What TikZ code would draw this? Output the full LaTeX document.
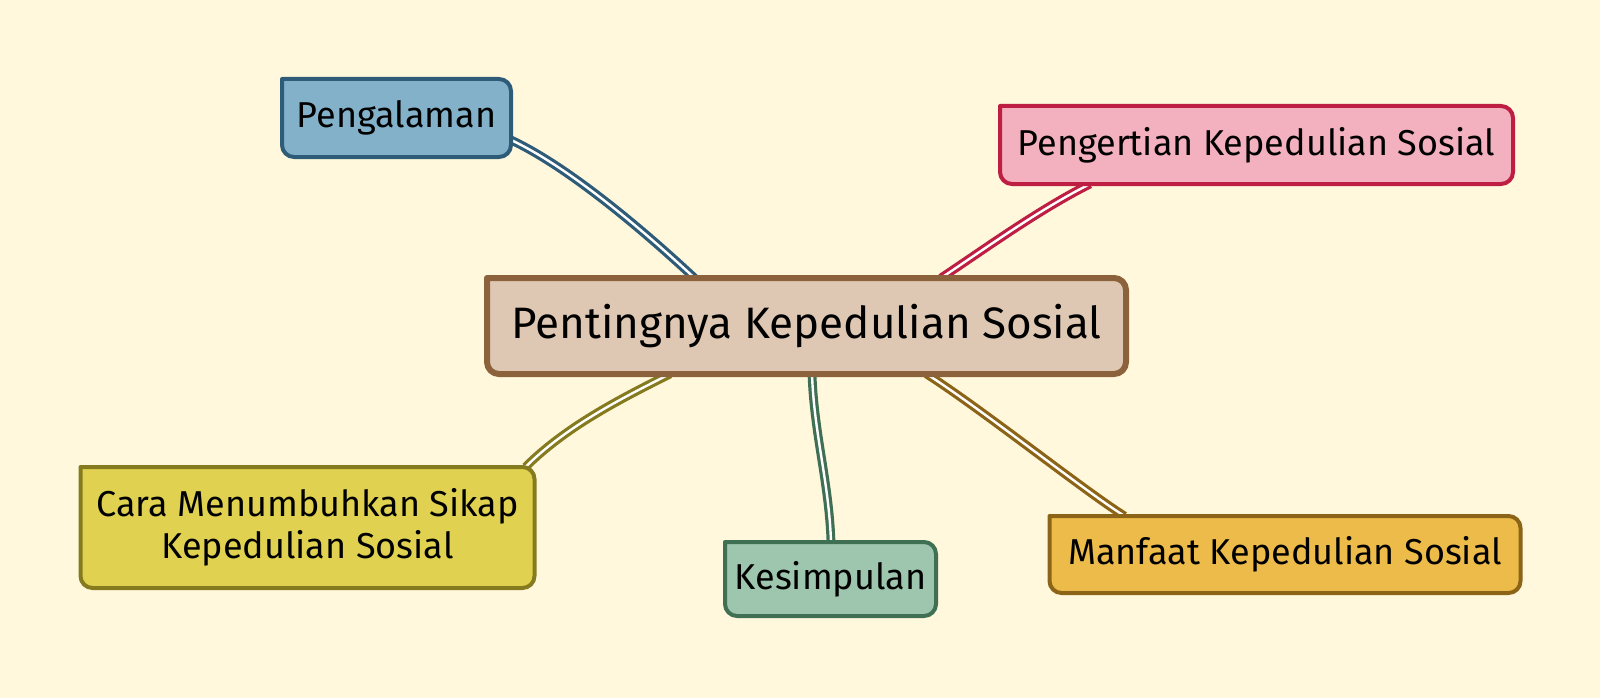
\documentclass[tikz,border=0pt]{standalone}
\usepackage{fontspec}
\setmainfont{Fira Sans}
\usetikzlibrary{calc}

\pgfdeclarelayer{bg}
\pgfdeclarelayer{edges}
\pgfdeclarelayer{frames}
\pgfsetlayers{bg,edges,frames,main}

\definecolor{paper}{HTML}{FFF8DC}
\definecolor{coreFill}{HTML}{DEC8B4}
\definecolor{coreLine}{HTML}{8C623C}
\definecolor{pengFill}{HTML}{82B1C9}
\definecolor{pengLine}{HTML}{2E5C78}
\definecolor{artiFill}{HTML}{F3B0BE}
\definecolor{artiLine}{HTML}{BE1E41}
\definecolor{caraFill}{HTML}{E0D250}
\definecolor{caraLine}{HTML}{857A1E}
\definecolor{kesFill}{HTML}{9EC5AE}
\definecolor{kesLine}{HTML}{407054}
\definecolor{manFill}{HTML}{EDBB4A}
\definecolor{manLine}{HTML}{8C6418}

% frame with a sharp top-left corner: node, fill, line, width
\newcommand{\mmframe}[4]{%
  \begin{pgfonlayer}{frames}
    \filldraw[fill=#2, draw=#3, line width=#4, line join=round]
      (#1.north west) -- ([xshift=-12pt]#1.north east)
      arc[start angle=90, end angle=0, radius=12pt] -- ([yshift=12pt]#1.south east)
      arc[start angle=0, end angle=-90, radius=12pt] -- ([xshift=12pt]#1.south west)
      arc[start angle=270, end angle=180, radius=12pt] -- cycle;
  \end{pgfonlayer}}

\begin{document}
\begin{tikzpicture}[x=1pt,y=1pt,
    topic/.style={inner sep=0pt, outer sep=0pt, align=center,
      font=\fontsize{36}{42}\selectfont},
    link/.style={line width=3.2pt, double=white, double distance=2.4pt}]
    \begin{pgfonlayer}{bg}
        \fill[paper] (0,0) rectangle (1600,-698);
    \end{pgfonlayer}
    \useasboundingbox (0,0) rectangle (1600,-698);

    \node[topic, minimum width=639, minimum height=96,
      font=\fontsize{44}{52}\selectfont] (core) at (806.5,-326) {Pentingnya Kepedulian Sosial};
    \node[topic, minimum width=229, minimum height=78] (peng) at (396.5,-118) {Pengalaman};
    \node[topic, minimum width=513, minimum height=78] (arti) at (1256.5,-145) {Pengertian Kepedulian Sosial};
    \node[topic, minimum width=454, minimum height=121] (cara) at (307.5,-527.5) {Cara Menumbuhkan Sikap\\Kepedulian Sosial};
    \node[topic, minimum width=211, minimum height=74] (kes) at (830.5,-579) {Kesimpulan};
    \node[topic, minimum width=471, minimum height=77] (man) at (1285,-554.5) {Manfaat Kepedulian Sosial};

    \mmframe{core}{coreFill}{coreLine}{6pt}
    \mmframe{peng}{pengFill}{pengLine}{4pt}
    \mmframe{arti}{artiFill}{artiLine}{4pt}
    \mmframe{cara}{caraFill}{caraLine}{4pt}
    \mmframe{kes}{kesFill}{kesLine}{4pt}
    \mmframe{man}{manFill}{manLine}{4pt}

    \begin{pgfonlayer}{edges}
        \draw[link, pengLine] ($(peng.east)+(0,-22)$) .. controls +(60,-28) and +(-45,42) .. ($(core.north)+(-112,0)$);
        \draw[link, artiLine] ($(arti.south)+(-166.5,0)$) .. controls +(-50,-25) and +(45,30) .. ($(core.north)+(134.5,0)$);
        \draw[link, caraLine] ($(cara.north)+(218,0)$) .. controls +(40,40) and +(-50,-25) .. ($(core.south)+(-136.5,0)$);
        \draw[link, kesLine] ($(kes.north)+(0.5,0)$) .. controls +(-2,60) and +(2,-60) .. ($(core.south)+(5.5,0)$);
        \draw[link, manLine] ($(man.north)+(-160.5,0)$) .. controls +(-40,25) and +(55,-35) .. ($(core.south)+(120,0)$);
    \end{pgfonlayer}
\end{tikzpicture}
\end{document}
